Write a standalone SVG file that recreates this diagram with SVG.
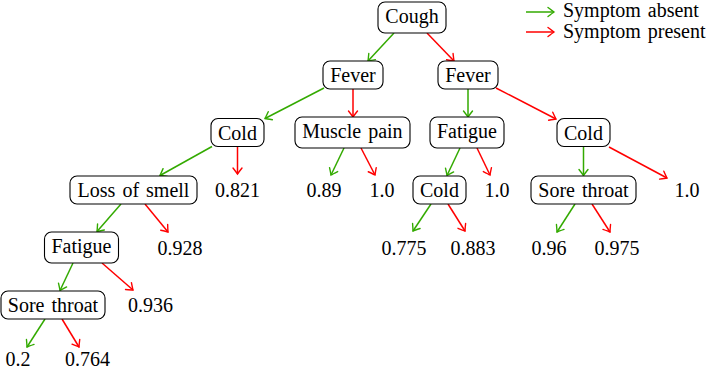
<svg xmlns="http://www.w3.org/2000/svg" width="707" height="369" viewBox="0 0 707 369" font-family="'Liberation Serif', 'Times New Roman', serif" font-size="20">
<style>
.box{fill:#fff;stroke:#000;stroke-width:1.1}
.g{stroke:#33aa00;stroke-width:1.5;fill:none}
.r{stroke:#ff0000;stroke-width:1.5;fill:none}
</style>
<defs>
<marker id="ag" markerWidth="9" markerHeight="10" viewBox="-7 -5 9 10" refX="0" refY="0" orient="auto" markerUnits="userSpaceOnUse" overflow="visible"><path d="M-6,-4.5 Q-1.5,-1 0,0 Q-1.5,1 -6,4.5" fill="none" stroke="#33aa00" stroke-width="1.4" stroke-linecap="round"/></marker>
<marker id="ar" markerWidth="9" markerHeight="10" viewBox="-7 -5 9 10" refX="0" refY="0" orient="auto" markerUnits="userSpaceOnUse" overflow="visible"><path d="M-6,-4.5 Q-1.5,-1 0,0 Q-1.5,1 -6,4.5" fill="none" stroke="#ff0000" stroke-width="1.4" stroke-linecap="round"/></marker>
</defs>

<g id="connectors">
<line class="g" x1="394" y1="33" x2="368" y2="61" marker-end="url(#ag)"/>
<line class="r" x1="427" y1="33" x2="454" y2="61" marker-end="url(#ar)"/>
<line class="g" x1="324" y1="88" x2="265" y2="118.5" marker-end="url(#ag)"/>
<line class="r" x1="353" y1="89" x2="353" y2="117" marker-end="url(#ar)"/>
<line class="g" x1="468" y1="89" x2="468" y2="117" marker-end="url(#ag)"/>
<line class="r" x1="496" y1="88" x2="556" y2="119" marker-end="url(#ar)"/>
<line class="g" x1="212" y1="146.5" x2="160" y2="175.5" marker-end="url(#ag)"/>
<line class="r" x1="237.5" y1="146.5" x2="237.5" y2="174" marker-end="url(#ar)"/>
<line class="g" x1="344" y1="148" x2="331" y2="175" marker-end="url(#ag)"/>
<line class="r" x1="361" y1="148" x2="375" y2="175" marker-end="url(#ar)"/>
<line class="g" x1="460" y1="148" x2="447" y2="175.5" marker-end="url(#ag)"/>
<line class="r" x1="477" y1="148" x2="490" y2="175" marker-end="url(#ar)"/>
<line class="g" x1="583.5" y1="146.5" x2="583.5" y2="175.5" marker-end="url(#ag)"/>
<line class="r" x1="609" y1="147" x2="667" y2="178" marker-end="url(#ar)"/>
<line class="g" x1="121" y1="204" x2="97" y2="231.5" marker-end="url(#ag)"/>
<line class="r" x1="145" y1="204" x2="168" y2="232" marker-end="url(#ar)"/>
<line class="g" x1="431" y1="204" x2="413" y2="231" marker-end="url(#ag)"/>
<line class="r" x1="448" y1="204" x2="465" y2="231" marker-end="url(#ar)"/>
<line class="g" x1="575" y1="204" x2="557" y2="232" marker-end="url(#ag)"/>
<line class="r" x1="592" y1="204" x2="610" y2="232" marker-end="url(#ar)"/>
<line class="g" x1="73" y1="263" x2="60" y2="290.5" marker-end="url(#ag)"/>
<line class="r" x1="102" y1="263" x2="133" y2="290" marker-end="url(#ar)"/>
<line class="g" x1="45" y1="319" x2="27" y2="347" marker-end="url(#ag)"/>
<line class="r" x1="62" y1="319" x2="79" y2="347" marker-end="url(#ar)"/>
</g>

<g word-spacing="2">
<g id="cough"><rect class="box" x="378" y="2" width="68" height="31" rx="7"/><text x="385.3" y="23">Cough</text></g>
<g id="feverL"><rect class="box" x="323" y="61" width="60" height="28" rx="7"/><text x="330.2" y="82">Fever</text></g>
<g id="feverR"><rect class="box" x="438" y="61" width="60" height="28" rx="7"/><text x="445.2" y="82">Fever</text></g>
<g id="coldL"><rect class="box" x="211" y="118.5" width="53" height="28" rx="7"/><text x="218" y="139.5">Cold</text></g>
<g id="muscle"><rect class="box" x="295" y="117" width="115" height="31" rx="7"/><text x="302.3" y="138">Muscle pain</text></g>
<g id="fatigueR"><rect class="box" x="430" y="117" width="74" height="31" rx="7"/><text x="437" y="138">Fatigue</text></g>
<g id="coldR"><rect class="box" x="557" y="118.5" width="53" height="28" rx="7"/><text x="564" y="139.5">Cold</text></g>
<g id="loss"><rect class="box" x="70" y="176" width="127" height="28" rx="7"/><text x="77.6" y="197">Loss of smell</text></g>
<g id="coldM"><rect class="box" x="413" y="176" width="53" height="28" rx="7"/><text x="420" y="197">Cold</text></g>
<g id="soreR"><rect class="box" x="531" y="176" width="105" height="28" rx="7"/><text x="538.3" y="197">Sore throat</text></g>
<g id="fatigueL"><rect class="box" x="44.5" y="232" width="74" height="31" rx="7"/><text x="51.5" y="253">Fatigue</text></g>
<g id="soreL"><rect class="box" x="1" y="291" width="104" height="28" rx="7"/><text x="7.8" y="312">Sore throat</text></g>

<g id="leaves">
<text x="215" y="197">0.821</text>
<text x="306.5" y="197">0.89</text>
<text x="369.5" y="197">1.0</text>
<text x="484.5" y="197">1.0</text>
<text x="674.5" y="197">1.0</text>
<text x="157.5" y="254.5">0.928</text>
<text x="381.5" y="254.5">0.775</text>
<text x="450.5" y="254.5">0.883</text>
<text x="531.5" y="254.5">0.96</text>
<text x="594.5" y="254.5">0.975</text>
<text x="128" y="312">0.936</text>
<text x="5.5" y="366">0.2</text>
<text x="65" y="366">0.764</text>
</g>
</g>

<g id="legend" word-spacing="2">
<line class="g" x1="526" y1="12" x2="554" y2="12" marker-end="url(#ag)"/>
<text x="563" y="17">Symptom absent</text>
<line class="r" x1="526" y1="32" x2="554" y2="32" marker-end="url(#ar)"/>
<text x="563" y="37.5">Symptom present</text>
</g>
</svg>
